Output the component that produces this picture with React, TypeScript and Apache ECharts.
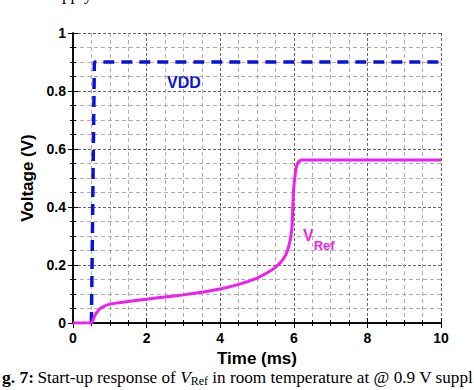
import React, { useEffect, useRef } from "react";
import * as echarts from "echarts";

const vddTime = [0.5, 0.58, 10];
const vddValues = [0, 0.9, 0.9];

const vrefTime = [0, 0.5, 0.55, 0.6, 0.7, 0.8, 1.0, 1.3, 1.6, 2.0, 2.5, 3.0, 3.5, 4.0, 4.5, 5.0, 5.3, 5.5, 5.65, 5.75, 5.83, 5.9, 5.95, 5.99, 6.05, 6.1, 6.15, 6.2, 10];
const vrefValues = [0, 0, 0.012, 0.028, 0.045, 0.055, 0.065, 0.071, 0.076, 0.082, 0.09, 0.097, 0.106, 0.117, 0.133, 0.155, 0.175, 0.192, 0.21, 0.228, 0.25, 0.285, 0.33, 0.45, 0.525, 0.55, 0.558, 0.562, 0.562];

const xTicks = [0, 2, 4, 6, 8, 10];
const yTicks = [0, 0.2, 0.4, 0.6, 0.8, 1];

const SANS = "'Liberation Sans', Arial, sans-serif";
const SERIF = "'Liberation Serif', 'Times New Roman', serif";

export default function App() {
  const ref = useRef<HTMLDivElement>(null);
  useEffect(() => {
    if (!ref.current) return;
    const chart = echarts.init(ref.current, null, { renderer: "svg" });
    const axisCommon = {
      axisLine: { show: true, lineStyle: { color: "#000", width: 1.5 } },
      axisTick: { show: true, inside: true, length: 5, lineStyle: { color: "#000" } },
      minorTick: { show: true, splitNumber: 4, length: 3, lineStyle: { color: "#000" } },
    };
    chart.setOption({
      animation: false,
      backgroundColor: "#fff",
      grid: { left: 73, right: 33, top: 33, bottom: 67 },
      xAxis: [
        {
          type: "value",
          min: xTicks[0],
          max: xTicks[xTicks.length - 1],
          interval: 2,
          ...axisCommon,
          axisLabel: { color: "#000", fontWeight: "bold", fontSize: 14, fontFamily: SANS, margin: 8 },
          splitLine: { show: true, lineStyle: { color: "#666", type: [3, 2], width: 1 } },
          minorSplitLine: { show: true, lineStyle: { color: "#9a9a9a", type: [4, 3], width: 0.8 } },
          name: "Time (ms)",
          nameLocation: "middle",
          nameGap: 25,
          nameTextStyle: { color: "#000", fontWeight: "bold", fontSize: 17, fontFamily: SANS },
        },
        {
          type: "value",
          position: "top",
          min: 0,
          max: 10,
          interval: 2,
          ...axisCommon,
          axisLabel: { show: false },
          splitLine: { show: false },
        },
      ],
      yAxis: [
        {
          type: "value",
          min: yTicks[0],
          max: yTicks[yTicks.length - 1],
          interval: 0.2,
          ...axisCommon,
          axisLabel: {
            color: "#000",
            fontWeight: "bold",
            fontSize: 14,
            fontFamily: SANS,
            margin: 7,
            formatter: (v: number) => String(parseFloat(v.toFixed(1))),
          },
          splitLine: { show: true, lineStyle: { color: "#666", type: [3, 2], width: 1 } },
          minorSplitLine: { show: true, lineStyle: { color: "#9a9a9a", type: [4, 3], width: 0.8 } },
          name: "Voltage (V)",
          nameLocation: "middle",
          nameGap: 33,
          nameTextStyle: { color: "#000", fontWeight: "bold", fontSize: 17, fontFamily: SANS },
        },
        {
          type: "value",
          position: "right",
          min: 0,
          max: 1,
          interval: 0.2,
          ...axisCommon,
          axisLabel: { show: false },
          splitLine: { show: false },
        },
      ],
      series: [
        {
          name: "VDD",
          type: "line",
          data: vddTime.map((t, i) => [t, vddValues[i]]),
          showSymbol: false,
          lineStyle: { color: "#0a14d6", width: 3.5, type: [11, 7] },
          z: 3,
        },
        {
          name: "VRef",
          type: "line",
          data: vrefTime.map((t, i) => [t, vrefValues[i]]),
          showSymbol: false,
          smooth: 0.2,
          lineStyle: { color: "#f01ef0", width: 3 },
          z: 4,
        },
      ],
      graphic: [
        {
          type: "text",
          left: 167,
          top: 74,
          style: { text: "VDD", fill: "#0a14d6", font: `bold 16px ${SANS}` },
        },
        {
          type: "text",
          left: 303,
          top: 227,
          style: {
            text: "{v|V}{s|Ref}",
            rich: {
              v: { fill: "#f01ef0", font: `bold 16px ${SANS}`, verticalAlign: "top" },
              s: { fill: "#f01ef0", font: `bold 13px ${SANS}`, padding: [12, 0, 0, 0] },
            },
          },
        },
        {
          type: "text",
          left: 2,
          top: 368,
          style: {
            text: "{b|g. 7:} {n|Start-up response of }{i|V}{sub|Ref}{n| in room temperature at @ 0.9 V suppl}",
            rich: {
              b: { fill: "#000", font: `bold 17.5px ${SERIF}` },
              n: { fill: "#000", font: `17.2px ${SERIF}` },
              i: { fill: "#000", font: `italic 17.2px ${SERIF}` },
              sub: { fill: "#000", font: `12px ${SERIF}`, padding: [8, 0, 0, 0] },
            },
          },
        },
        {
          type: "text",
          left: 62,
          top: -14,
          style: { text: "pply", fill: "#000", font: `17px ${SERIF}` },
        },
      ],
    });
    return () => chart.dispose();
  }, []);
  return <div ref={ref} style={{ position: "fixed", left: 0, top: 0, width: 474, height: 390 }} />;
}
